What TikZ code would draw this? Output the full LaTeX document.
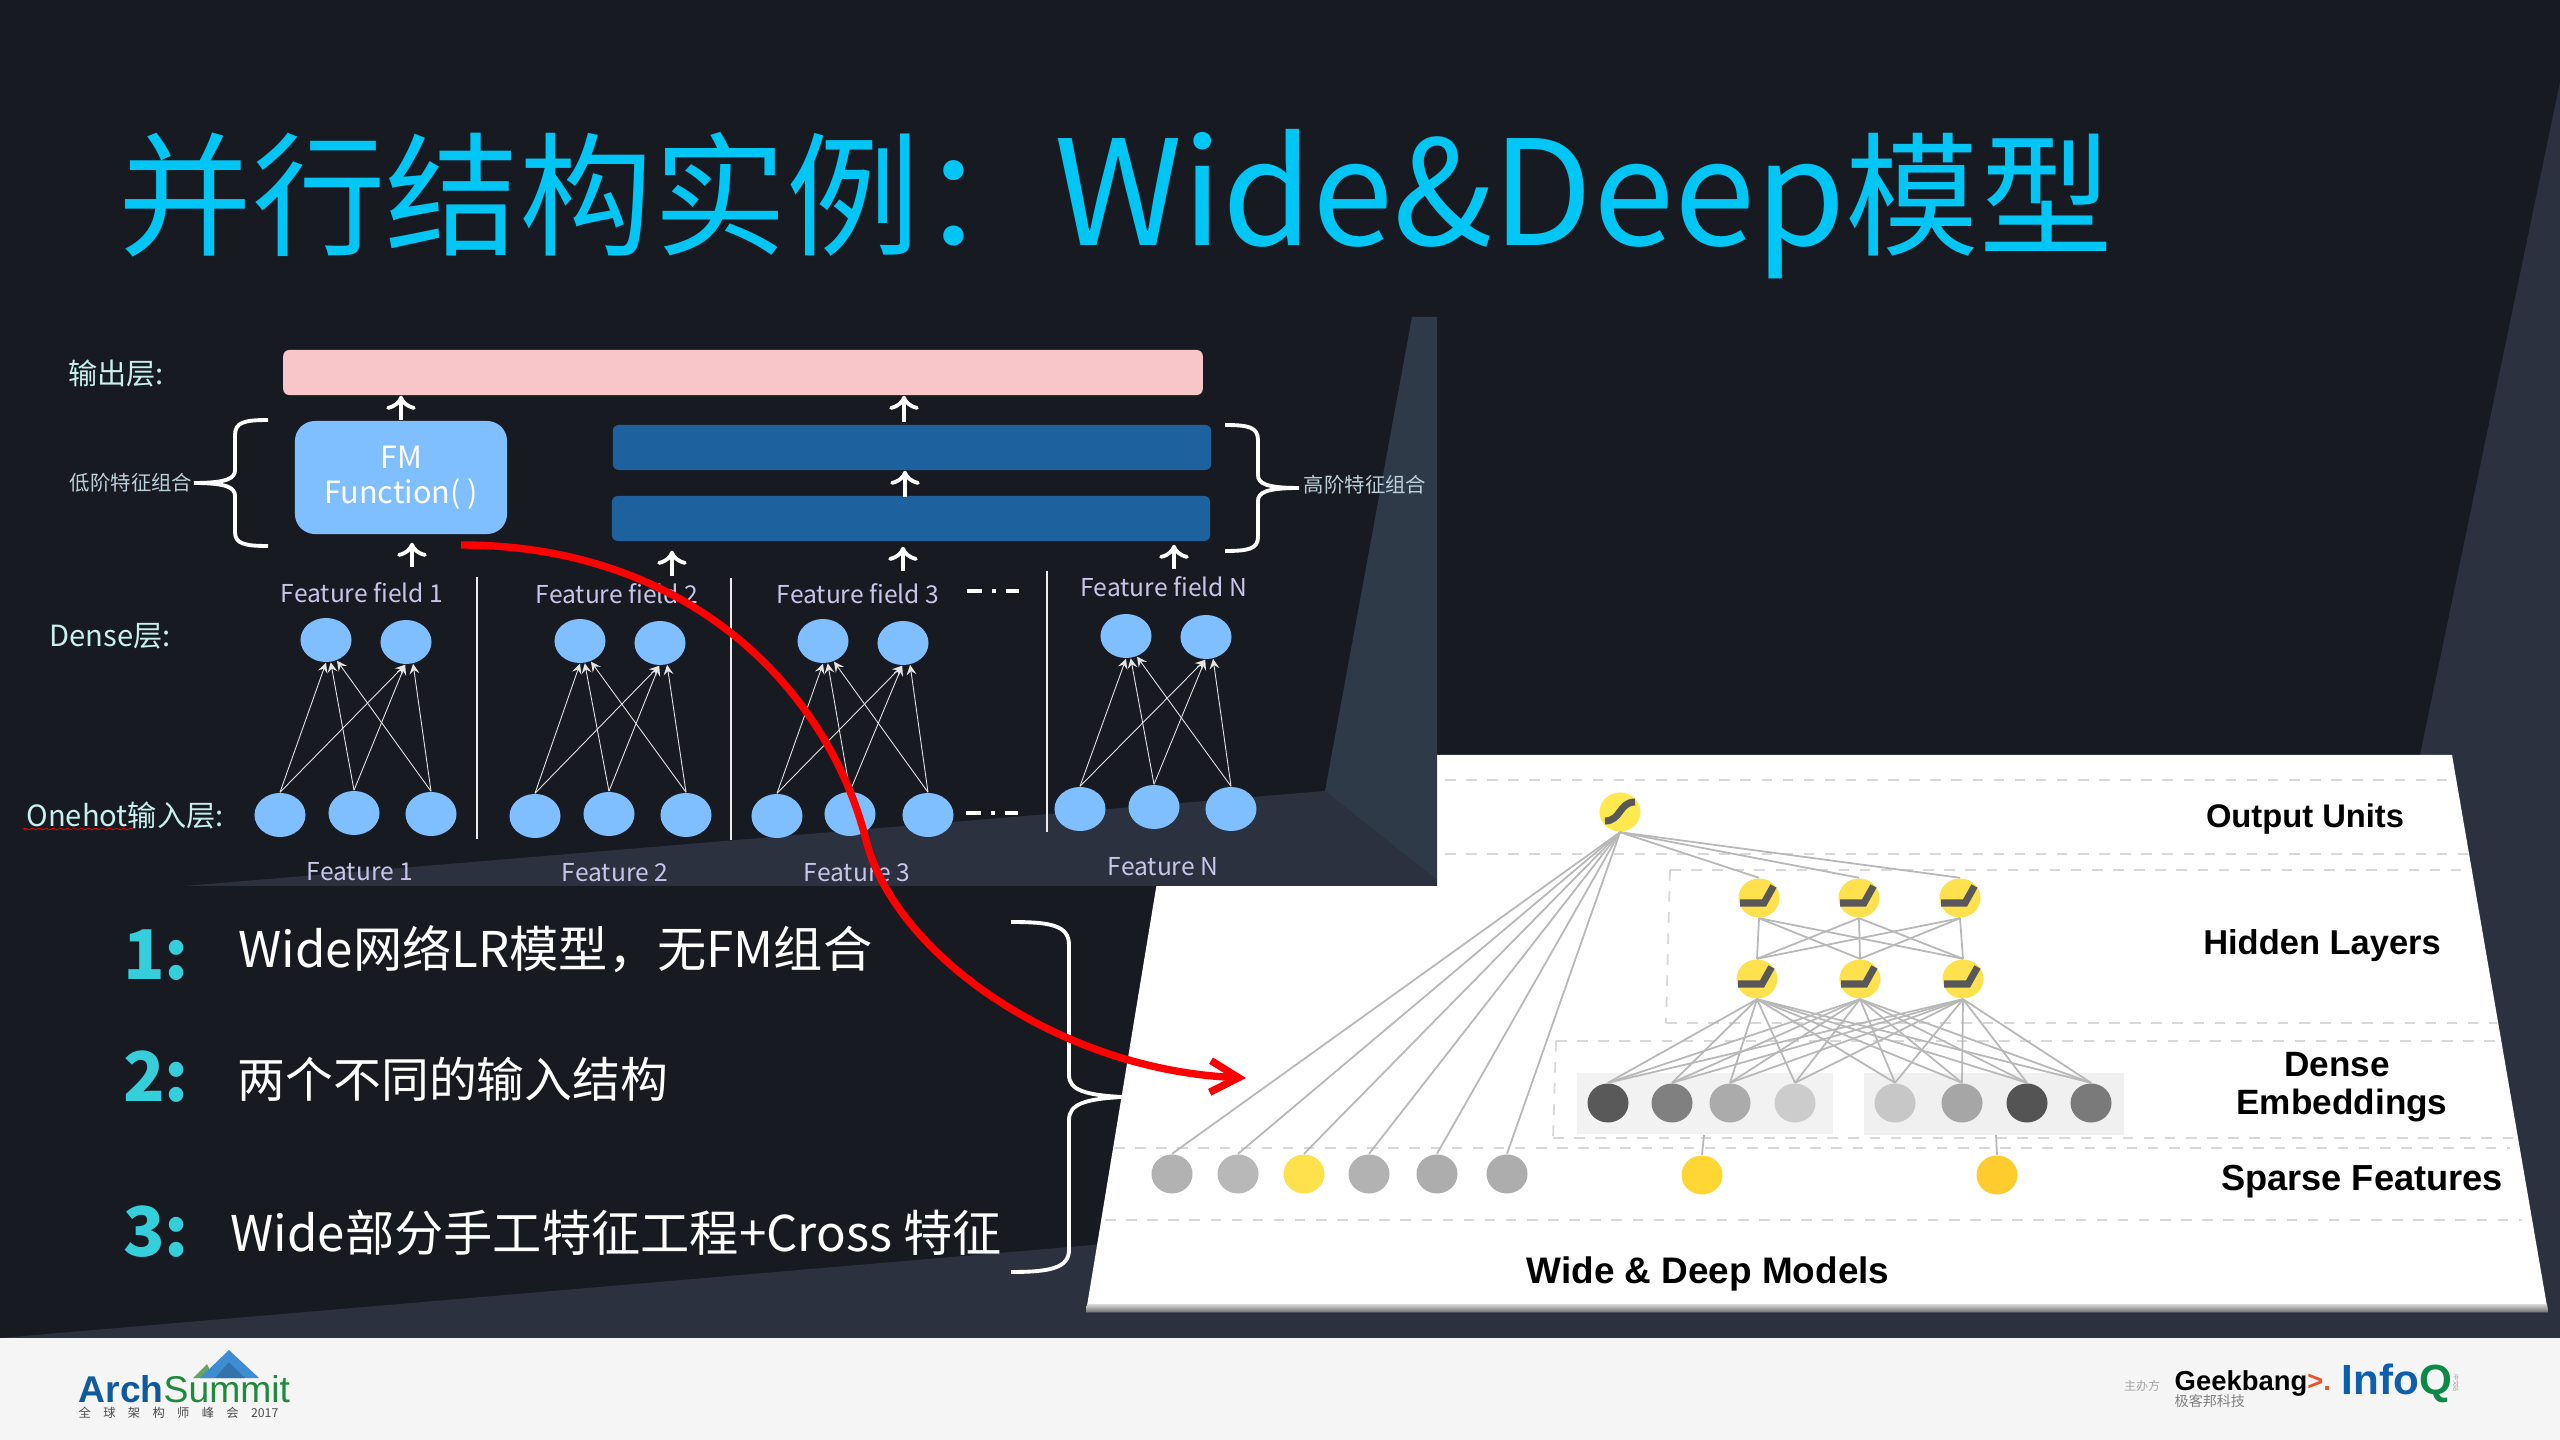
\documentclass[tikz,border=0pt]{standalone}
\usepackage{fontspec}
\setmainfont{Noto Sans CJK SC}
\newfontfamily\panelfont{Liberation Sans}
\usetikzlibrary{shapes.geometric,arrows.meta,decorations.pathmorphing}

\definecolor{slidebg}{HTML}{171A21}
\definecolor{slate}{HTML}{2B313E}
\definecolor{wallblue}{HTML}{2F3A49}
\definecolor{titleblue}{HTML}{00C6F5}
\definecolor{ballblue}{HTML}{80BFFF}
\definecolor{barblue}{HTML}{1D629F}
\definecolor{barpink}{HTML}{F8C6C8}
\definecolor{mint}{HTML}{C8F0F0}
\definecolor{lavender}{HTML}{C9C5EA}
\definecolor{palelabel}{HTML}{BCD0DC}
\definecolor{numcyan}{HTML}{35CEDB}
\definecolor{fanline}{HTML}{B8B8B8}
\definecolor{dashgray}{HTML}{D8D8D8}
\definecolor{glyphgray}{HTML}{58585A}
\definecolor{yellowa}{HTML}{FFE94F}
\definecolor{yellowb}{HTML}{FFE14D}
\definecolor{yellowc}{HTML}{FFD633}
\definecolor{yellowd}{HTML}{FFCC2E}
\definecolor{archblue}{HTML}{0F5A9C}
\definecolor{archgreen}{HTML}{1F8A3C}
\definecolor{qblue}{HTML}{0D5FAE}
\definecolor{qgreen}{HTML}{0A8A45}
\definecolor{bangorange}{HTML}{E8552A}

\tikzset{
  neuron/.style={ellipse,fill=ballblue,minimum width=0.51cm,minimum height=0.44cm,inner sep=0pt},
  unit/.style={ellipse,fill=#1,minimum width=0.41cm,minimum height=0.39cm,inner sep=0pt},
  bar/.style={rectangle,rounded corners=0.06cm,inner sep=0pt,minimum height=0.45cm},
  uparrow/.style={->,white,line width=1.1pt},
  thinarrow/.style={->,>=stealth,white!80!gray,line width=0.25pt},
  bracket/.style={white,line width=1.1pt},
  sepline/.style={white!85!gray,line width=0.3pt},
  fanwire/.style={fanline,line width=0.5pt},
  rowline/.style={dashgray,line width=0.5pt,dashed},
  pics/relu/.style={code={\draw[glyphgray,line width=2pt] (-19,5) -- (5,5) -- (14.5,-12);}},
  pics/sigm/.style={code={\draw[glyphgray,line width=2pt] (-15,9) .. controls (1,9) and (-1,-10) .. (15,-10);}},
}

\begin{document}
\begin{tikzpicture}[x=0.01cm,y=-0.01cm]
  \useasboundingbox (0,0) rectangle (2560,1440);
  % slide
  \fill[slidebg] (0,0) rectangle (2560,1440);
  \fill[slate] (0,1338) -- (2420,1132) -- (2420,755) -- (2560,82) -- (2560,1338) -- cycle;
  \fill[white!96!black] (0,1338) rectangle (2560,1440);
  \node[text=titleblue,font=\fontsize{38}{38}\selectfont,anchor=west,inner sep=0pt] (title) at (118,204) {并行结构实例：{\fontsize{41.5}{41.5}\selectfont Wide\&Deep}模型};

  % white panel
  \fill[white] (1178,755) -- (2452,755) -- (2548,1312) -- (1086,1312) -- cycle;
  \shade[top color=black!15,bottom color=black!55] (1087,1304) -- (2547,1304) -- (2548,1312) -- (1086,1312) -- cycle;
  \draw[rowline] (1445,780) -- (2452,780);
  \draw[rowline] (1445,854) -- (2469,854);
  \draw[rowline] (1670,870) -- (2470,870);
  \draw[rowline] (1670,870) -- (1666,1023);
  \draw[rowline] (1666,1023) -- (2497,1023);
  \draw[rowline] (1556,1041) -- (2500,1041);
  \draw[rowline] (1556,1041) -- (1553,1138);
  \draw[rowline] (1553,1138) -- (2513,1138);
  \draw[rowline] (1114,1148) -- (2510,1148);
  \draw[rowline] (1105,1220) -- (2522,1220);
  \fill[black!5] (1577,1073) rectangle (1833,1134);
  \fill[black!6] (1864,1073) rectangle (2124,1135);

  \node[unit=yellowa] (out) at (1620,812) {};
  \node[unit=yellowb] (ht1) at (1759,898) {};
  \node[unit=yellowb] (ht2) at (1859,898) {};
  \node[unit=yellowb] (ht3) at (1960,898) {};
  \node[unit=yellowb] (hb1) at (1757,979) {};
  \node[unit=yellowb] (hb2) at (1860,979) {};
  \node[unit=yellowb] (hb3) at (1963,979) {};
  \pic at (out) {sigm};
  \pic at (ht1) {relu};
  \pic at (ht2) {relu};
  \pic at (ht3) {relu};
  \pic at (hb1) {relu};
  \pic at (hb2) {relu};
  \pic at (hb3) {relu};

  \node[unit=black!65] (emb1) at (1608,1103) {};
  \node[unit=black!50] (emb2) at (1672,1103) {};
  \node[unit=black!33] (emb3) at (1730,1103) {};
  \node[unit=black!20] (emb4) at (1795,1103) {};
  \node[unit=black!22] (emb5) at (1895,1103) {};
  \node[unit=black!35] (emb6) at (1962,1103) {};
  \node[unit=black!67] (emb7) at (2027,1103) {};
  \node[unit=black!52] (emb8) at (2091,1103) {};

  \node[unit=black!30] (sp1) at (1172,1174) {};
  \node[unit=black!28] (sp2) at (1238,1174) {};
  \node[unit=yellowb] (sp3) at (1304,1174) {};
  \node[unit=black!30] (sp4) at (1369,1174) {};
  \node[unit=black!32] (sp5) at (1437,1174) {};
  \node[unit=black!32] (sp6) at (1507,1174) {};
  \node[unit=yellowc] (sp7) at (1702,1175) {};
  \node[unit=yellowd] (sp8) at (1997,1175) {};
  \coordinate (sp7up) at (1704,1135);
  \coordinate (sp8up) at (1996,1135);

  \foreach \i in {1,...,6} \draw[fanwire] (out.south) -- (sp\i.north);
  \foreach \i in {1,2,3} \draw[fanwire] (out.south) -- (ht\i.north);
  \foreach \i in {1,2,3} \foreach \j in {1,2,3} \draw[fanwire] (ht\i.south) -- (hb\j.north);
  \foreach \i in {1,2,3} \foreach \j in {1,...,8} \draw[fanwire] (hb\i.south) -- (emb\j.north);
  \draw[fanwire] (sp7.north) -- (sp7up);
  \draw[fanwire] (sp8.north) -- (sp8up);

  \begin{scope}[text=black]
    \node[font=\panelfont\bfseries\fontsize{9.3}{9.3}\selectfont] (outlabel) at (2305,819) {Output Units};
    \node[font=\panelfont\bfseries\fontsize{9.8}{9.8}\selectfont] (hiddenlabel) at (2322,946) {Hidden Layers};
    \node[font=\panelfont\bfseries\fontsize{10}{10}\selectfont] (denselabel) at (2337,1065) {Dense};
    \node[font=\panelfont\bfseries\fontsize{10}{10}\selectfont] (emblabel) at (2342,1105) {Embeddings};
    \node[font=\panelfont\bfseries\fontsize{10.3}{10.3}\selectfont] (sparselabel) at (2362,1182) {Sparse Features};
    \node[font=\panelfont\bfseries\fontsize{10.5}{10.5}\selectfont] (modellabel) at (1708,1274) {Wide \& Deep Models};
  \end{scope}

  % pasted picture on the left
  \fill[slidebg] (0,317) rectangle (1437,886);
  \fill[slate] (184,886) -- (1325,791) -- (1437,880) -- (1437,886) -- cycle;
  \fill[wallblue] (1325,791) -- (1412,317) -- (1437,317) -- (1437,880) -- cycle;

  \node[bar,fill=barpink,minimum width=9.19cm] (pink) at (743,372.5) {};
  \node[bar,fill=barblue,minimum width=5.98cm] (blue1) at (912,447.5) {};
  \node[bar,fill=barblue,minimum width=5.98cm] (blue2) at (911,518.5) {};
  \node[rectangle,rounded corners=0.2cm,fill=ballblue,minimum width=2.12cm,minimum height=1.13cm,inner sep=0pt,
        align=center,text=white,font=\fontsize{8.7}{10}\selectfont] (fm) at (401,477.5) {FM\\Function( )};

  \node[text=mint,font=\fontsize{8.3}{8.3}\selectfont] (outputlayer) at (116,374) {输出层:};
  \node[text=mint,font=\fontsize{8.3}{8.3}\selectfont] (denselayer) at (110,636) {Dense层:};
  \node[text=mint,font=\fontsize{8.3}{8.3}\selectfont] (onehotlayer) at (125,815) {Onehot输入层:};
  \node[text=palelabel,font=\fontsize{5.8}{5.8}\selectfont] (loworder) at (131,483) {低阶特征组合};
  \node[text=palelabel,font=\fontsize{5.8}{5.8}\selectfont] (highorder) at (1365,485) {高阶特征组合};
  \draw[red,line width=0.2pt,decorate,decoration={snake,amplitude=0.25pt,segment length=2pt}] (23,829) -- (133,829);

  \node[text=lavender,font=\fontsize{7}{7}\selectfont] (field1) at (362,593) {Feature field 1};
  \node[text=lavender,font=\fontsize{7}{7}\selectfont] (field2) at (617,594) {Feature field 2};
  \node[text=lavender,font=\fontsize{7}{7}\selectfont] (field3) at (858,594) {Feature field 3};
  \node[text=lavender,font=\fontsize{7}{7}\selectfont] (fieldn) at (1164,587) {Feature field N};
  \node[text=lavender,font=\fontsize{7}{7}\selectfont] (feat1) at (360,872) {Feature 1};
  \node[text=lavender,font=\fontsize{7}{7}\selectfont] (feat2) at (615,873) {Feature 2};
  \node[text=lavender,font=\fontsize{7}{7}\selectfont] (feat3) at (857,873) {Feature 3};
  \node[text=lavender,font=\fontsize{7}{7}\selectfont] (featn) at (1163,867) {Feature N};

  \draw[sepline] (477,577) -- (477,839);
  \draw[sepline] (731,578) -- (731,840);
  \draw[sepline] (1047,571) -- (1047,832);
  \draw[white,line width=1.2pt,dash pattern=on 0.15cm off 0.1cm on 0.04cm off 0.1cm] (967,591) -- (1019,591);
  \draw[white,line width=1.2pt,dash pattern=on 0.15cm off 0.1cm on 0.04cm off 0.1cm] (966,813) -- (1018,813);

  \node[neuron] (d11) at (326,640) {};
  \node[neuron] (d12) at (406,642) {};
  \node[neuron] (d21) at (580,641) {};
  \node[neuron] (d22) at (660,643) {};
  \node[neuron] (d31) at (823,641) {};
  \node[neuron] (d32) at (903,643) {};
  \node[neuron] (d41) at (1126,636) {};
  \node[neuron] (d42) at (1206,637) {};

  \node[neuron] (b11) at (280,815) {};
  \node[neuron] (b12) at (354,813) {};
  \node[neuron] (b13) at (431,814) {};
  \node[neuron] (b21) at (535,816) {};
  \node[neuron] (b22) at (609,814) {};
  \node[neuron] (b23) at (686,815) {};
  \node[neuron] (b31) at (777,816) {};
  \node[neuron] (b32) at (850,814) {};
  \node[neuron] (b33) at (928,815) {};
  \node[neuron] (b41) at (1080,809) {};
  \node[neuron] (b42) at (1154,807) {};
  \node[neuron] (b43) at (1231,809) {};

  \foreach \g in {1,2,3,4} {
    \draw[thinarrow] (b\g1.north) -- (d\g1.-90);
    \draw[thinarrow] (b\g2.north) -- (d\g1.-78);
    \draw[thinarrow] (b\g3.north) -- (d\g1.-62);
    \draw[thinarrow] (b\g1.north) -- (d\g2.-92);
    \draw[thinarrow] (b\g2.north) -- (d\g2.-92);
    \draw[thinarrow] (b\g3.north) -- (d\g2.-72);
  }

  \coordinate (in1) at (412,567);
  \coordinate (in2) at (672,576);
  \coordinate (in3) at (903,571);
  \coordinate (inn) at (1174,569);
  \coordinate (up1) at (905,497);
  \coordinate (up2) at (904,422);
  \draw[uparrow] (fm.north) -- (fm.north |- pink.south);
  \draw[uparrow] (up2) -- (up2 |- pink.south);
  \draw[uparrow] (up1) -- (up1 |- blue1.south);
  \draw[uparrow,shorten >=0.08cm] (in1) -- (in1 |- fm.south);
  \draw[uparrow,shorten >=0.09cm] (in2) -- (in2 |- blue2.south);
  \draw[uparrow,shorten >=0.05cm] (in3) -- (in3 |- blue2.south);
  \draw[uparrow,shorten >=0.03cm] (inn) -- (inn |- blue2.south);

  \draw[bracket] (268,420) .. controls (245,420) and (235,422) .. (235,435) -- (235,470)
     .. controls (235,478) and (228,483) .. (194,483) .. controls (228,483) and (235,488) .. (235,496)
     -- (235,532) .. controls (235,544) and (245,546) .. (268,546);
  \draw[bracket] (1225,425) .. controls (1248,425) and (1258,427) .. (1258,440) -- (1258,475)
     .. controls (1258,483) and (1265,488) .. (1299,488) .. controls (1265,488) and (1258,493) .. (1258,501)
     -- (1258,537) .. controls (1258,549) and (1248,551) .. (1225,551);

  % list on the lower left
  \node[text=numcyan,font=\bfseries\fontsize{19.5}{19.5}\selectfont] (num1) at (156,955) {1:};
  \node[text=numcyan,font=\bfseries\fontsize{19.5}{19.5}\selectfont] (num2) at (156,1077) {2:};
  \node[text=numcyan,font=\bfseries\fontsize{19.5}{19.5}\selectfont] (num3) at (156,1232) {3:};
  \node[text=white,font=\fontsize{14}{14}\selectfont,anchor=west,inner sep=0pt] (item1) at (238,949) {Wide网络LR模型，无FM组合};
  \node[text=white,font=\fontsize{13.6}{13.6}\selectfont,anchor=west,inner sep=0pt] (item2) at (237,1079) {两个不同的输入结构};
  \node[text=white,font=\fontsize{14}{14}\selectfont,anchor=west,inner sep=0pt] (item3) at (230,1233) {Wide部分手工特征工程+Cross 特征};
  \draw[bracket] (1011,922) .. controls (1050,922) and (1069,925) .. (1069,945) -- (1069,1075)
     .. controls (1069,1090) and (1085,1095) .. (1122,1097) .. controls (1085,1099) and (1069,1104) .. (1069,1120)
     -- (1069,1250) .. controls (1069,1268) and (1050,1272) .. (1011,1272);

  \coordinate (redstart) at (461,545);
  \coordinate (redmid) at (866,840);
  \coordinate (redend) at (1246,1078);
  \draw[red,line width=2.1pt,-{Straight Barb[length=8pt,width=9pt]}] (redstart) .. controls (690,545) and (828,690) .. (redmid)
     .. controls (895,955) and (1060,1070) .. (redend);

  % logos
  \fill[black!60!green!60!white] (193,1378) -- (207,1364) -- (214,1378) -- cycle;
  \fill[cyan!60!blue!80!white] (229,1350) -- (259,1378) -- (200,1378) -- cycle;
  \fill[archblue!85!white] (229,1362) -- (245,1378) -- (215,1378) -- cycle;
  \node[text=archblue,font=\panelfont\bfseries\fontsize{10.6}{10.6}\selectfont,anchor=base west,inner sep=0pt] (arch) at (78,1402) {Arch};
  \node[text=archgreen,font=\panelfont\fontsize{10.6}{10.6}\selectfont,anchor=base west,inner sep=0pt] (summit) at (163,1402) {Summit};
  \node[text=black!70,font=\fontsize{3.5}{3.5}\selectfont,anchor=west,inner sep=0pt] (archsub) at (78,1413) {全　球　架　构　师　峰　会　2017};
  \node[text=black!35,font=\fontsize{3.4}{3.4}\selectfont] (host) at (2142,1386) {主办方};
  \node[text=black,font=\panelfont\bfseries\fontsize{7.8}{7.8}\selectfont,anchor=west,inner sep=0pt] (geek) at (2174,1383) {Geekbang\textcolor{bangorange}{>.}};
  \node[text=black!50,font=\fontsize{4}{4}\selectfont,anchor=west,inner sep=0pt] (geeksub) at (2174,1401) {极客邦科技};
  \node[text=qblue,font=\panelfont\bfseries\fontsize{12}{12}\selectfont,anchor=west,inner sep=0pt] (infoq) at (2341,1383) {Info\textcolor{qgreen}{Q}};
  \node[text=black!40,font=\fontsize{1.7}{1.7}\selectfont,rotate=-90] (infoqsub) at (2456,1383) {中文站};
\end{tikzpicture}
\end{document}
